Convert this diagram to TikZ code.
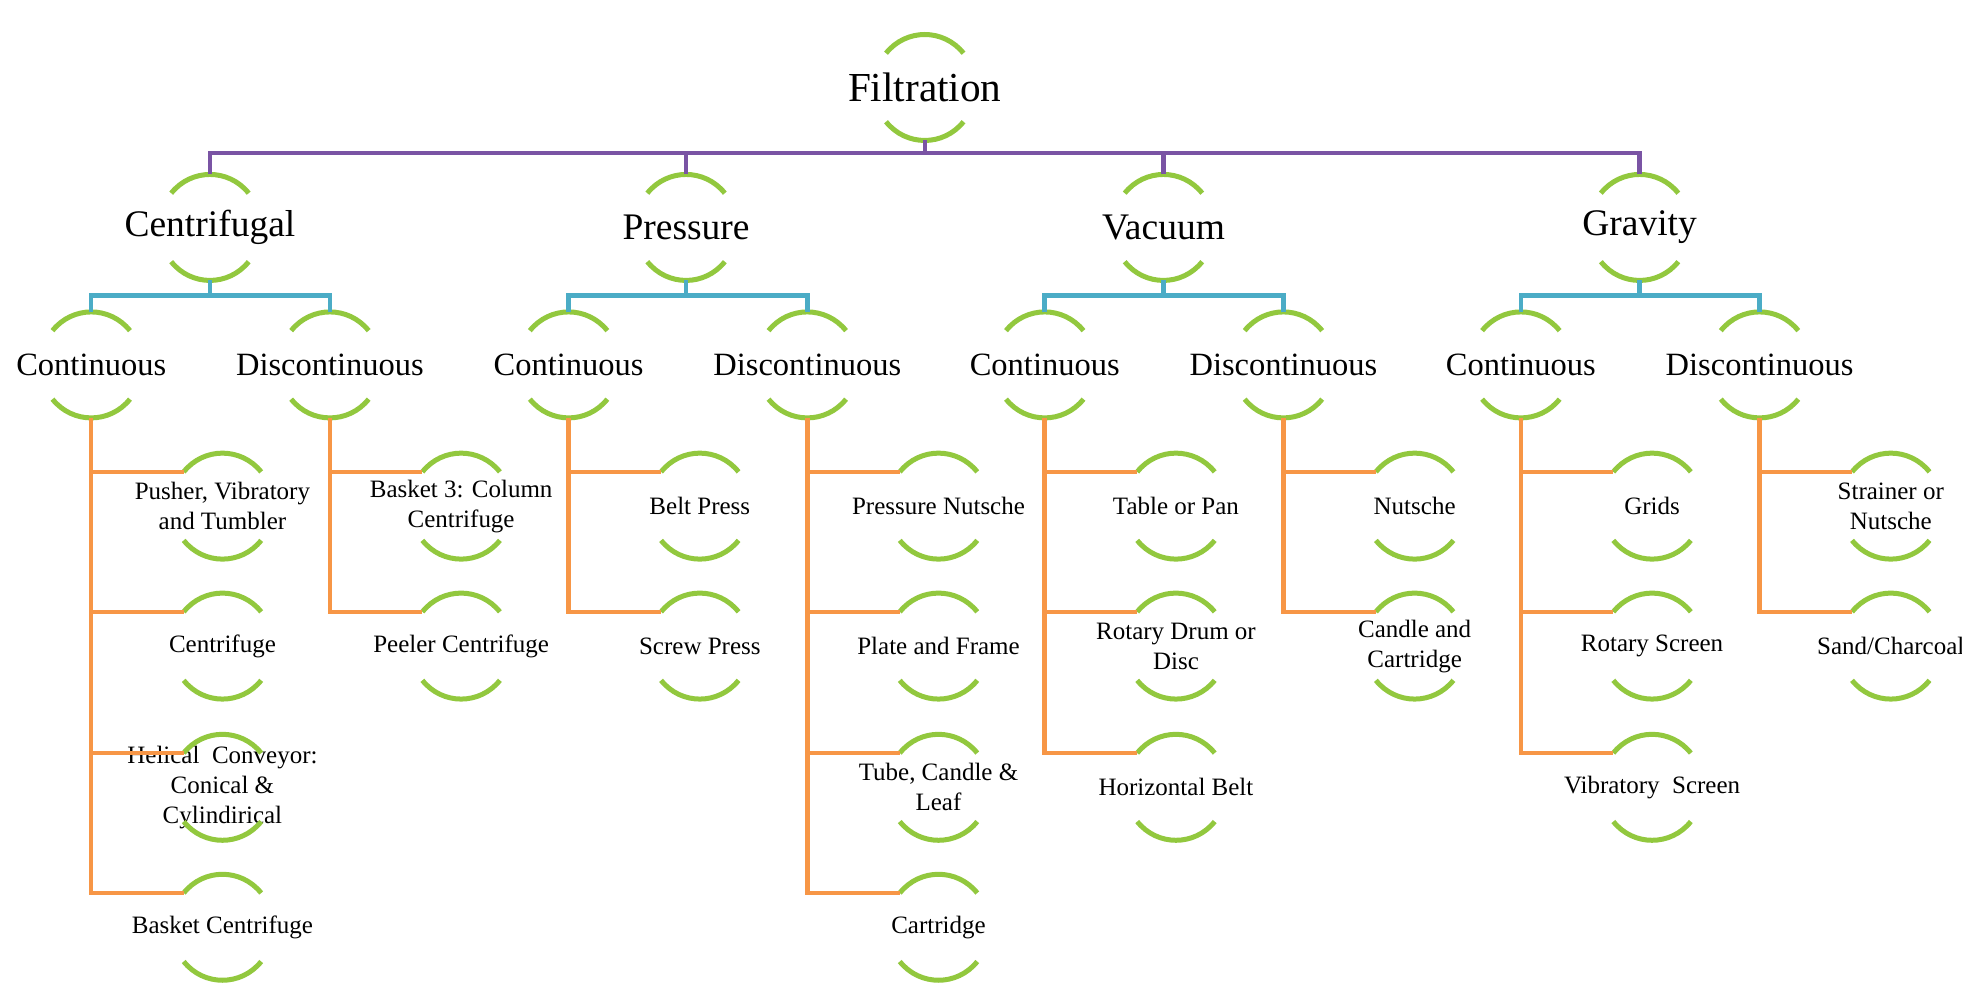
\documentclass[tikz,border=0pt]{standalone}
\usepackage{fontspec}
\setmainfont{Liberation Serif}
\usetikzlibrary{calc}
\definecolor{arcgreen}{RGB}{146,200,62}
\definecolor{lvlpurple}{RGB}{122,84,164}
\definecolor{lvlblue}{RGB}{75,172,198}
\definecolor{lvlorange}{RGB}{247,150,70}
\begin{document}
\begin{tikzpicture}[x=0.5pt,y=-0.5pt]
	\tikzstyle{box}=[inner sep=0pt,minimum height=42pt,align=center]
	\tikzstyle{root}=[box,font=\fontsize{16.5}{18}\selectfont]
	\tikzstyle{cat}=[box,font=\fontsize{15}{17}\selectfont]
	\tikzstyle{mode}=[box,font=\fontsize{13}{15}\selectfont]
	\tikzstyle{leaf}=[box,font=\fontsize{10}{12}\selectfont]
	\tikzstyle{arc}=[arcgreen,line width=2pt]
	\tikzstyle{purp}=[lvlpurple,line width=1.8pt]
	\tikzstyle{blu}=[lvlblue,line width=1.8pt]
	\tikzstyle{ora}=[lvlorange,line width=1.8pt]

	\clip (0,0) rectangle (1570,803);
	\fill[white] (0,0) rectangle (1570,803);

	%%% root and categories
	\node[root] (filt) at (740,70) {Filtration};
	\node[cat] (cent) at (168,182) {Centrifugal};
	\node[cat] (pres) at (549,182) {Pressure};
	\node[cat] (vacu) at (931,182) {Vacuum};
	\node[cat] (grav) at (1312,182) {Gravity};

	%%% modes
	\node[mode] (cc) at (73,292) {Continuous};
	\node[mode] (cd) at (264,292) {Discontinuous};
	\node[mode] (pc) at (455,292) {Continuous};
	\node[mode] (pd) at (646,292) {Discontinuous};
	\node[mode] (vc) at (836,292) {Continuous};
	\node[mode] (vd) at (1027,292) {Discontinuous};
	\node[mode] (gc) at (1217,292) {Continuous};
	\node[mode] (gd) at (1408,292) {Discontinuous};

	%%% leaves
	\node[leaf] (cc1) at (178,405) {Pusher, Vibratory\\and Tumbler};
	\node[leaf] (cc2) at (178,517) {Centrifuge};
	\node[leaf] (cc3) at (178,630) {Helical\ \ Conveyor:\\Conical \&\\Cylindirical};
	\node[leaf] (cc4) at (178,742) {Basket Centrifuge};
	\node[leaf] (cd1) at (369,405) {Basket 3: Column\\Centrifuge};
	\node[leaf] (cd2) at (369,517) {Peeler Centrifuge};

	\node[leaf] (pc1) at (560,405) {Belt Press};
	\node[leaf] (pc2) at (560,517) {Screw Press};
	\node[leaf] (pd1) at (751,405) {Pressure Nutsche};
	\node[leaf] (pd2) at (751,517) {Plate and Frame};
	\node[leaf] (pd3) at (751,630) {Tube, Candle \&\\Leaf};
	\node[leaf] (pd4) at (751,742) {Cartridge};

	\node[leaf] (vc1) at (941,405) {Table or Pan};
	\node[leaf] (vc2) at (941,517) {Rotary Drum or\\Disc};
	\node[leaf] (vc3) at (941,630) {Horizontal Belt};
	\node[leaf] (vd1) at (1132,405) {Nutsche};
	\node[leaf] (vd2) at (1132,517) {Candle and\\Cartridge};

	\node[leaf] (gc1) at (1322,405) {Grids};
	\node[leaf] (gc2) at (1322,517) {Rotary Screen};
	\node[leaf] (gc3) at (1322,630) {Vibratory\ \ Screen};
	\node[leaf] (gd1) at (1513,405) {Strainer or\\Nutsche};
	\node[leaf] (gd2) at (1513,517) {Sand/Charcoal};

	%%% green arcs
	\foreach \n in {filt,cent,pres,vacu,grav,cc,cd,pc,pd,vc,vd,gc,gd,
		cc1,cc2,cc3,cc4,cd1,cd2,pc1,pc2,pd1,pd2,pd3,pd4,vc1,vc2,vc3,vd1,vd2,gc1,gc2,gc3,gd1,gd2}{
		\draw[arc] ($(\n.north)+(-31,15)$) .. controls ($(\n.north)+(-15,-5)$) and ($(\n.north)+(15,-5)$) .. ($(\n.north)+(31,15)$);
		\draw[arc] ($(\n.south)+(-31,-15)$) .. controls ($(\n.south)+(-15,5)$) and ($(\n.south)+(15,5)$) .. ($(\n.south)+(31,-15)$);
	}

	%%% purple level
	\foreach \n in {cent,pres,vacu,grav}
		\draw[purp] (filt.south) -- ++(0,10) -| (\n.north);

	%%% blue level
	\draw[blu] (cent.south) -- ++(0,12) -| (cc.north);
	\draw[blu] (cent.south) -- ++(0,12) -| (cd.north);
	\draw[blu] (pres.south) -- ++(0,12) -| (pc.north);
	\draw[blu] (pres.south) -- ++(0,12) -| (pd.north);
	\draw[blu] (vacu.south) -- ++(0,12) -| (vc.north);
	\draw[blu] (vacu.south) -- ++(0,12) -| (vd.north);
	\draw[blu] (grav.south) -- ++(0,12) -| (gc.north);
	\draw[blu] (grav.south) -- ++(0,12) -| (gd.north);

	%%% orange level
	\foreach \p/\l in {cc/cc1,cc/cc2,cc/cc3,cc/cc4,cd/cd1,cd/cd2,
		pc/pc1,pc/pc2,pd/pd1,pd/pd2,pd/pd3,pd/pd4,
		vc/vc1,vc/vc2,vc/vc3,vd/vd1,vd/vd2,
		gc/gc1,gc/gc2,gc/gc3,gd/gd1,gd/gd2}
		\draw[ora] (\p.south) |- ($(\l.north)+(-31,15)$);
\end{tikzpicture}
\end{document}
